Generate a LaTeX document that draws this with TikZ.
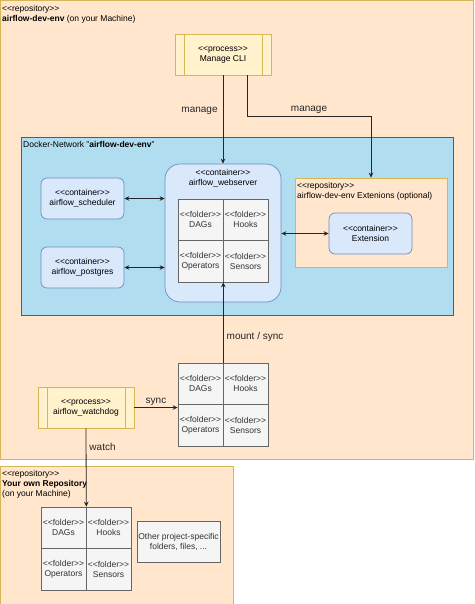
\documentclass[tikz,border=0pt]{standalone}
\usepackage{fontspec}
\setmainfont{Liberation Sans}
\usetikzlibrary{arrows.meta}
\definecolor{repofill}{HTML}{FFE6CC}
\definecolor{repoline}{HTML}{D6B656}
\definecolor{procfill}{HTML}{FFF2CC}
\definecolor{netfill}{HTML}{B1DDF0}
\definecolor{netline}{HTML}{10739E}
\definecolor{contfill}{HTML}{DAE8FC}
\definecolor{contline}{HTML}{6C8EBF}
\definecolor{foldfill}{HTML}{F5F5F5}
\definecolor{foldline}{HTML}{666666}
\definecolor{foldtext}{HTML}{333333}
\newcommand{\stereo}[1]{<\kern0pt<#1>\kern0pt>}
\begin{document}
\begin{tikzpicture}[x=1pt, y=-1pt, font=\fontsize{8.5}{10}\selectfont,
    every node/.style={align=center, inner sep=1pt},
    container/.style={draw=contline, fill=contfill, line width=0.7pt, rounded corners=6pt, minimum width=83pt, minimum height=41pt},
    process/.style={draw=repoline, fill=procfill, line width=0.7pt, minimum width=96pt, minimum height=41pt,
        path picture={\draw[repoline, line width=0.7pt]
            ([xshift=9pt]path picture bounding box.north west) -- ([xshift=9pt]path picture bounding box.south west)
            ([xshift=-9pt]path picture bounding box.north east) -- ([xshift=-9pt]path picture bounding box.south east);}},
    folder/.style={draw=foldline, fill=foldfill, text=foldtext, line width=0.6pt, minimum width=45pt, minimum height=41.5pt},
    title/.style={anchor=north west, align=left, inner sep=0pt},
    flow/.style={draw=black!85, line width=0.8pt, -{Stealth[length=5pt,width=4.5pt]}},
    both/.style={flow, {Stealth[length=5pt,width=4.5pt]}-{Stealth[length=5pt,width=4.5pt]}},
    edgelabel/.style={font=\fontsize{10}{12}\selectfont, text=black!85}]
    \useasboundingbox (0,0) rectangle (474,604);
    % repositories and network
    \filldraw[fill=repofill, draw=repoline, line width=0.7pt] (0.5,0.5) rectangle (473.5,459);
    \node[title] (repotitle) at (2,5) {\stereo{repository}\\\textbf{airflow-dev-env} (on your Machine)};
    \filldraw[fill=netfill, draw=netline, line width=0.7pt] (21,137) rectangle (453,315);
    \node[title] (dockertitle) at (23,141) {Docker-Network "\textbf{airflow-dev-env}"};
    \filldraw[fill=repofill, draw=repoline, line width=0.7pt] (0.5,466.5) rectangle (233,606);
    \node[title] (owntitle) at (2,470) {\stereo{repository}\\\textbf{Your own Repository}\\(on your Machine)};
    % processes
    \node[process] (cli) at (223,54.5) {\stereo{process}\\Manage CLI};
    \node[process] (dog) at (86,407.5) {\stereo{process}\\airflow\_watchdog};
    % containers
    \node[container] (sched) at (82.5,198.5) {\stereo{container}\\airflow\_scheduler};
    \node[container] (pg) at (82.5,267.5) {\stereo{container}\\airflow\_postgres};
    \node[container, rounded corners=15pt, minimum width=116pt, minimum height=138pt] (web) at (223,233) {};
    \node[anchor=north] (webtitle) at ([yshift=-4pt]web.north) {\stereo{container}\\airflow\_webserver};
    \node[draw=repoline, fill=repofill, line width=0.7pt, minimum width=152pt, minimum height=89pt] (extrepo) at (371,222.5) {};
    \node[title] (exttitle) at (297,182) {\stereo{repository}\\airflow-dev-env Extenions (optional)};
    \node[container] (ext) at (370.5,233.5) {\stereo{container}\\Extension};
    \node[draw=foldline, fill=foldfill, text=foldtext, line width=0.6pt, minimum width=83pt, minimum height=41pt] (other) at (178.5,541.5) {Other project-specific\\folders, files, ...};
    % folders
    \foreach \gx/\gy/\gn in {178/199/web, 178/363/sync, 41/507/own} {
        \node[folder] (\gn-dags) at (\gx+22.5,\gy+20.75) {\stereo{folder}\\DAGs};
        \node[folder] (\gn-hooks) at (\gx+67.5,\gy+20.75) {\stereo{folder}\\Hooks};
        \node[folder] (\gn-ops) at (\gx+22.5,\gy+62.25) {\stereo{folder}\\Operators};
        \node[folder] (\gn-sens) at (\gx+67.5,\gy+62.25) {\stereo{folder}\\Sensors};
    }
    % connectors
    \coordinate (turn) at (371,116);
    \draw[flow] (cli.south) -- node[edgelabel, pos=0.4, left=4pt] {manage} (web.north);
    \draw[flow] ([xshift=24pt]cli.south) |- node[edgelabel, pos=0.75, above=1pt] {manage} (turn) -- (extrepo.north);
    \draw[both] (sched.east) -- (sched.east -| web.west);
    \draw[both] (pg.east) -- (pg.east -| web.west);
    \draw[both] (web.east |- ext.west) -- (ext.west);
    \draw[flow] (sync-dags.north east) -- node[edgelabel, pos=0.32, right=2pt] {mount / sync} (web-ops.south east);
    \draw[flow] (dog.east) -- node[edgelabel, midway, above=1pt] {sync} (dog.east -| sync-dags.south west);
    \draw[flow] (dog.south) -- node[edgelabel, pos=0.24, right=2pt] {watch} (own-dags.north east);
\end{tikzpicture}
\end{document}
